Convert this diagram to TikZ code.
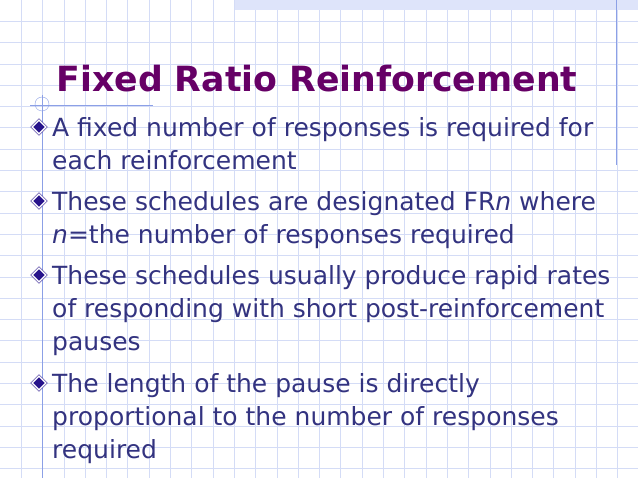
\documentclass[tikz,border=0pt]{standalone}
\usepackage{fontspec}
\setmainfont{DejaVu Sans}
\usetikzlibrary{positioning, shapes.geometric}
\definecolor{gridblue}{RGB}{212,220,246}
\definecolor{lineblue}{RGB}{140,160,230}
\definecolor{bandblue}{RGB}{222,228,250}
\definecolor{titlepurple}{RGB}{102,0,102}
\definecolor{textblue}{RGB}{51,51,128}
\definecolor{bulletblue}{RGB}{40,20,140}
\begin{document}
\begin{tikzpicture}[x=1pt,y=-1pt,
  bullettext/.style={anchor=north west, inner sep=0pt, align=left,
    text=textblue, font=\fontsize{25}{33}\selectfont},
  bulletmark/.style={draw=bulletblue, fill=bulletblue, diamond, inner sep=0pt,
    minimum size=14pt, double=white, double distance=1.5pt},
  gridline/.style={gridblue, line width=0.7pt}
]
\useasboundingbox (0,0) rectangle (638,478);
\fill[white] (0,0) rectangle (638,478);
% background grid
\foreach \k in {1,...,29} {
  \draw[gridline] (\k*21.3,0) -- (\k*21.3,478);
}
\foreach \k in {1,...,22} {
  \draw[gridline] (0,\k*21.3) -- (638,\k*21.3);
}
\fill[bandblue] (235,0) rectangle (638,10);
\draw[lineblue] (616,0) -- (616,165);
\draw[lineblue] (30,105) -- (153,105);
\draw[lineblue] (42,95) -- (42,478);
\draw[lineblue] (42,104) circle (7);

% Title
\node[anchor=base, text=titlepurple, font=\fontsize{34.7}{38}\selectfont\bfseries]
  (title) at (317,92) {Fixed Ratio Reinforcement};

% Bullets
\node[bullettext] (b1) at (52,117) {A fixed number of responses is required for\\each reinforcement};
\node[bullettext] (b2) at (52,191) {These schedules are designated FR\textit{n} where\\\textit{n}=the number of responses required};
\node[bullettext] (b3) at (52,265) {These schedules usually produce rapid rates\\of responding with short post-reinforcement\\pauses};
\node[bullettext] (b4) at (52,373) {The length of the pause is directly\\proportional to the number of responses\\required};

\foreach \b in {b1,b2,b3,b4} {
  \node[bulletmark] (m\b) at ([xshift=-13pt,yshift=-10pt]\b.north west) {};
}
\end{tikzpicture}
\end{document}
